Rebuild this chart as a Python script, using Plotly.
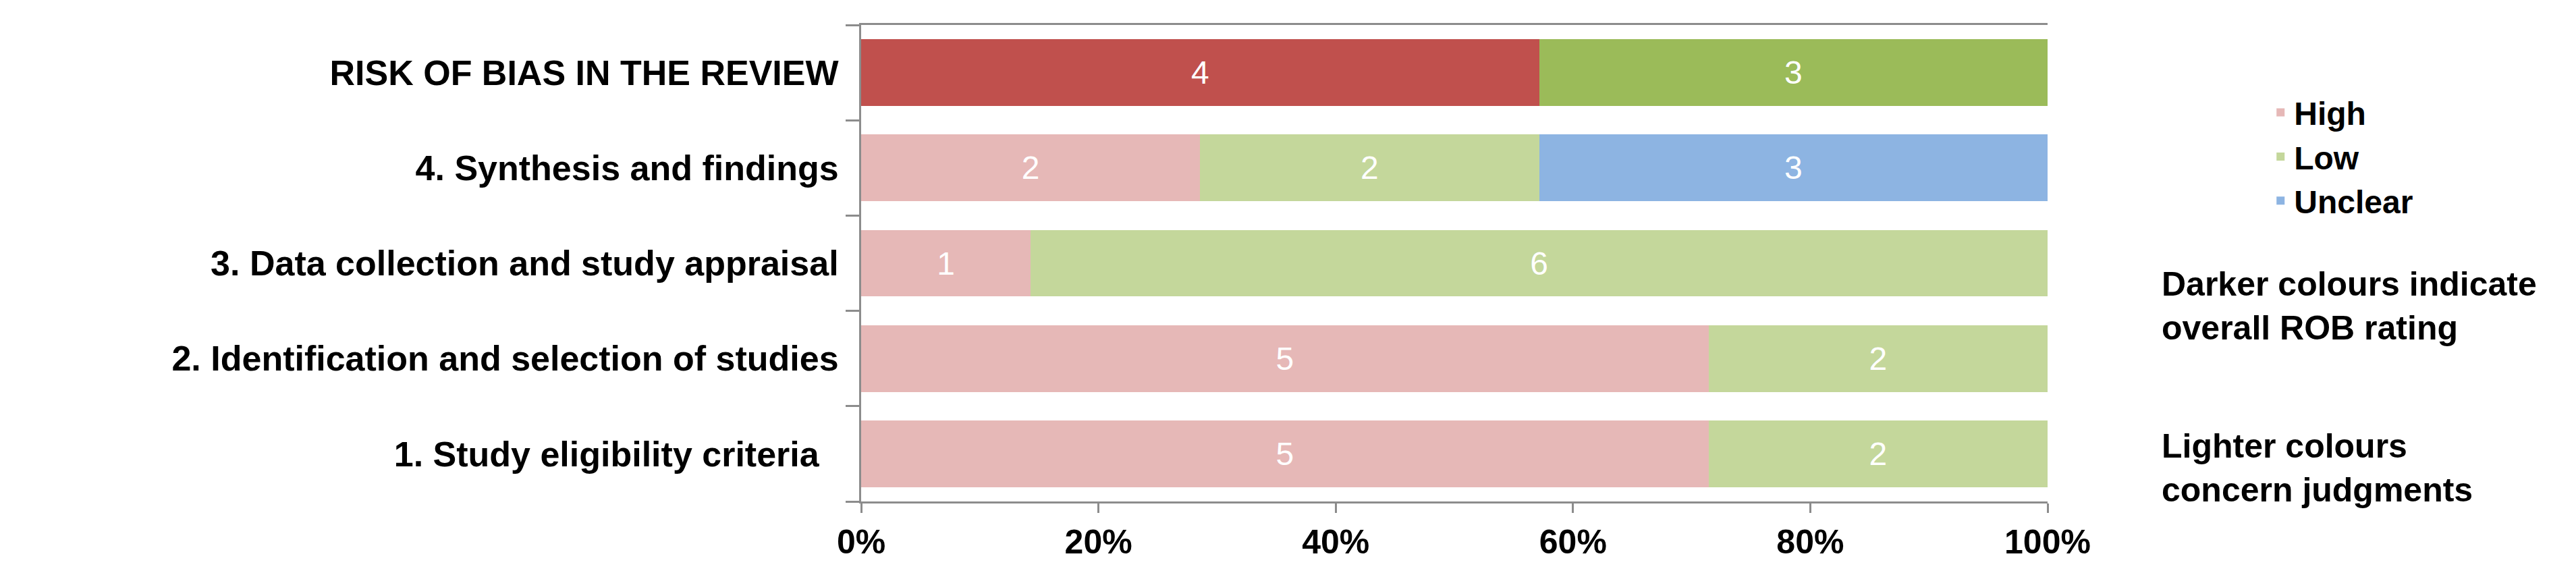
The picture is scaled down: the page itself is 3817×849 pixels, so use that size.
import plotly.graph_objects as go

categories = ["1. Study eligibility criteria  ", "2. Identification and selection of studies",
              "3. Data collection and study appraisal", "4. Synthesis and findings",
              "RISK OF BIAS IN THE REVIEW"]
high = [5, 5, 1, 2, 4]
low = [2, 2, 6, 2, 3]
unclear = [0, 0, 0, 3, 0]
x_ticks = ["0%", "20%", "40%", "60%", "80%", "100%"]

light = {"High": "#E6B8B7", "Low": "#C4D79B", "Unclear": "#8DB4E2"}
dark = {"High": "#C0504D", "Low": "#9BBB59", "Unclear": "#558ED5"}

fig = go.Figure()
for name, vals in [("High", high), ("Low", low), ("Unclear", unclear)]:
    colors = [light[name]] * 4 + [dark[name]]
    fig.add_trace(go.Bar(
        y=categories, x=vals, orientation="h", name=name,
        marker=dict(color=colors, line=dict(width=0)),
        text=[str(v) if v else "" for v in vals], textposition="inside",
        insidetextanchor="middle",
        textfont=dict(color="white", size=48, family="Liberation Sans"),
    ))

fig.update_layout(
    barmode="stack", barnorm="percent", bargap=0.3,
    width=3817, height=849, paper_bgcolor="white", plot_bgcolor="white",
    margin=dict(l=1268, r=791, t=29, b=114),
    font=dict(family="Liberation Sans", size=52, color="black"),
    legend=dict(x=1.185, y=0.87, xanchor="left", yanchor="top", traceorder="normal",
                font=dict(size=48, family="Liberation Sans", weight="bold"),
                itemwidth=30, tracegroupgap=0),
    uniformtext=dict(minsize=30, mode="show"),
)
fig.update_xaxes(range=[0, 100], tickvals=[0, 20, 40, 60, 80, 100], ticktext=x_ticks,
                 showline=True, linecolor="#8c8c8c", linewidth=3, mirror=True,
                 ticks="outside", ticklen=14, tickwidth=3, tickcolor="#8c8c8c",
                 showgrid=False, zeroline=False,
                 tickfont=dict(size=50, weight="bold"))
fig.update_yaxes(showline=True, linecolor="#8c8c8c", linewidth=3,
                 ticks="outside", ticklen=20, tickwidth=3, tickcolor="#8c8c8c",
                 tickson="boundaries", showgrid=False, ticklabelstandoff=20,
                 tickfont=dict(size=52, weight="bold"))
fig.add_annotation(xref="paper", yref="paper", x=1.095, y=0.41, xanchor="left", yanchor="middle",
                   showarrow=False, align="left",
                   text="Darker colours indicate<br>overall ROB rating",
                   font=dict(size=50, weight="bold"))
fig.add_annotation(xref="paper", yref="paper", x=1.095, y=0.07, xanchor="left", yanchor="middle",
                   showarrow=False, align="left",
                   text="Lighter colours<br>concern judgments",
                   font=dict(size=50, weight="bold"))
fig.write_html("out.html")
